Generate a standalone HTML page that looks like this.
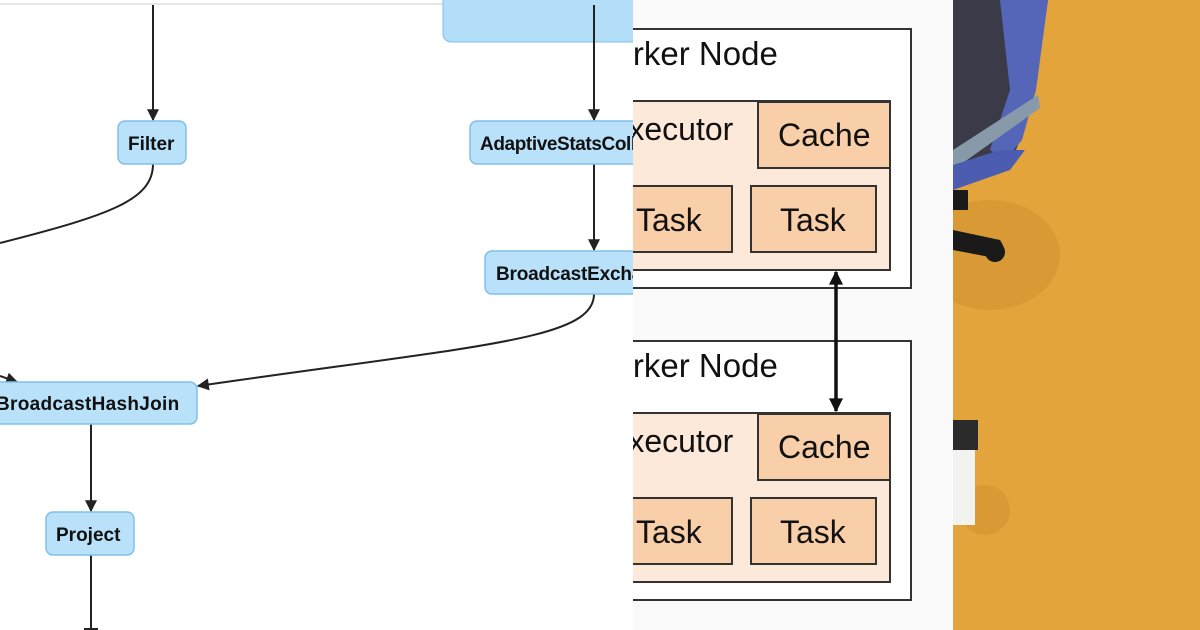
<!DOCTYPE html>
<html><head><meta charset="utf-8"><style>
html,body{margin:0;padding:0;width:1200px;height:630px;overflow:hidden;background:#fff}
svg{display:block}
</style></head><body>
<svg width="1200" height="630" viewBox="0 0 1200 630" xmlns="http://www.w3.org/2000/svg">
<defs>
<marker id="ar" viewBox="0 0 10 10" refX="9" refY="5" markerWidth="14" markerHeight="12" markerUnits="userSpaceOnUse" orient="auto"><path d="M0,0 L10,5 L0,10 z" fill="#222"/></marker>
<marker id="ar2" viewBox="0 0 10 10" refX="9" refY="5" markerWidth="16" markerHeight="14" markerUnits="userSpaceOnUse" orient="auto-start-reverse"><path d="M0,0 L10,5 L0,10 z" fill="#111"/></marker>
<clipPath id="cl"><rect x="0" y="0" width="633" height="630"/></clipPath>
<clipPath id="cm"><rect x="633" y="0" width="320" height="630"/></clipPath>
<clipPath id="cr"><rect x="953" y="0" width="247" height="630"/></clipPath>
</defs>
<!-- left panel -->
<g clip-path="url(#cl)">
<rect x="0" y="0" width="633" height="630" fill="#fff"/>
<line x1="0" y1="4" x2="633" y2="4" stroke="#ddd" stroke-width="1.5"/>
<rect x="443" y="-10" width="200" height="52" rx="8" fill="#b3def8" stroke="#7fc0ea"/>
<g stroke="#222" stroke-width="2" fill="none">
<line x1="153" y1="5" x2="153" y2="120" marker-end="url(#ar)"/>
<line x1="594" y1="5" x2="594" y2="120" marker-end="url(#ar)"/>
<line x1="594" y1="164" x2="594" y2="250" marker-end="url(#ar)"/>
<path d="M153,164 C153,200 110,215 0,243"/>
<path d="M594,294 C594,340 480,345 198,386" marker-end="url(#ar)"/>
<path d="M0,376 L17,382" marker-end="url(#ar)"/>
<line x1="91" y1="424" x2="91" y2="511" marker-end="url(#ar)"/>
<line x1="91" y1="555" x2="91" y2="630"/>
<line x1="84" y1="629" x2="98" y2="629"/>
</g>
<g fill="#b9e1f9" stroke="#7fc0ea" stroke-width="1.5">
<rect x="118" y="121" width="68" height="43" rx="7"/>
<rect x="470" y="121" width="200" height="43" rx="7"/>
<rect x="485" y="251" width="185" height="43" rx="7"/>
<rect x="-20" y="382" width="217" height="42" rx="7"/>
<rect x="46" y="512" width="88" height="43" rx="7"/>
</g>
<g font-family="Liberation Sans, sans-serif" font-weight="bold" font-size="19" fill="#111">
<text x="128" y="150">Filter</text>
<text x="480" y="150" letter-spacing="-0.4">AdaptiveStatsCollector</text>
<text x="496" y="280" letter-spacing="-0.2">BroadcastExchange</text>
<text x="-4" y="410" letter-spacing="0.3">BroadcastHashJoin</text>
<text x="56" y="541">Project</text>
</g>
</g>
<!-- middle panel -->
<g clip-path="url(#cm)">
<rect x="633" y="0" width="320" height="630" fill="#fafafa"/>
<g font-family="Liberation Sans, sans-serif" fill="#111">
<g>
<rect x="620" y="29" width="291" height="259" fill="#fff" stroke="#333" stroke-width="2"/>
<text x="584" y="65" font-size="33">Worker Node</text>
<rect x="620" y="101" width="270" height="169" fill="#fde9da" stroke="#333" stroke-width="2"/>
<text x="607" y="140" font-size="32">Executor</text>
<rect x="758" y="102" width="132" height="66" fill="#f9cfa9" stroke="#333" stroke-width="2"/>
<text x="778" y="146" font-size="32">Cache</text>
<rect x="610" y="186" width="122" height="66" fill="#f9cfa9" stroke="#333" stroke-width="2"/>
<text x="636" y="231" font-size="32">Task</text>
<rect x="751" y="186" width="125" height="66" fill="#f9cfa9" stroke="#333" stroke-width="2"/>
<text x="780" y="231" font-size="32">Task</text>
</g>
<g transform="translate(0,312)">
<rect x="620" y="29" width="291" height="259" fill="#fff" stroke="#333" stroke-width="2"/>
<text x="584" y="65" font-size="33">Worker Node</text>
<rect x="620" y="101" width="270" height="169" fill="#fde9da" stroke="#333" stroke-width="2"/>
<text x="607" y="140" font-size="32">Executor</text>
<rect x="758" y="102" width="132" height="66" fill="#f9cfa9" stroke="#333" stroke-width="2"/>
<text x="778" y="146" font-size="32">Cache</text>
<rect x="610" y="186" width="122" height="66" fill="#f9cfa9" stroke="#333" stroke-width="2"/>
<text x="636" y="231" font-size="32">Task</text>
<rect x="751" y="186" width="125" height="66" fill="#f9cfa9" stroke="#333" stroke-width="2"/>
<text x="780" y="231" font-size="32">Task</text>
</g>
</g>
<line x1="836" y1="272" x2="836" y2="411" stroke="#111" stroke-width="3.5" marker-start="url(#ar2)" marker-end="url(#ar2)"/>
</g>
<!-- right panel -->
<g clip-path="url(#cr)">
<rect x="953" y="0" width="247" height="630" fill="#e3a43c"/>
<ellipse cx="990" cy="255" rx="70" ry="55" fill="#d49432" opacity="0.7"/>
<ellipse cx="985" cy="510" rx="25" ry="25" fill="#d49432" opacity="0.7"/>
<path d="M953,0 L1048,0 L1035,90 L1020,140 L1010,165 L953,185 Z" fill="#3a3a48"/>
<path d="M1000,0 L1048,0 L1036,90 L1022,140 L1005,160 L990,150 L1010,90 Z" fill="#5566b8"/>
<path d="M953,150 L1038,95 L1040,108 L953,170 Z" fill="#8899aa"/>
<path d="M953,165 L1000,150 L1025,150 L1010,170 L953,190 Z" fill="#4c5cb0"/>
<rect x="953" y="190" width="15" height="20" fill="#1a1a1a"/>
<path d="M953,230 L1000,240 Q1010,255 995,258 L953,250 Z" fill="#1a1a1a"/>
<circle cx="995" cy="252" r="10" fill="#1a1a1a"/>
<rect x="953" y="420" width="25" height="30" fill="#2a2a2a"/>
<rect x="953" y="450" width="22" height="75" fill="#f2f2ee"/>
</g>
</svg>
</body></html>
